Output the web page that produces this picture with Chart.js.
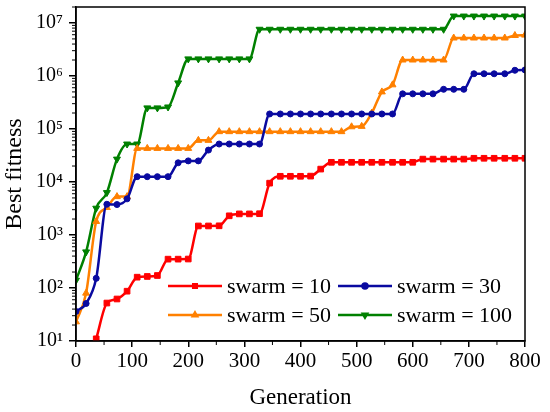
<!DOCTYPE html>
<html>
<head>
<meta charset="utf-8">
<script src="https://cdn.jsdelivr.net/npm/chart.js@4"></script>
<style>
  body { margin: 0; background: #fff; }
  canvas { display: block; }
</style>
</head>
<body>
<canvas id="chart" width="550" height="412"></canvas>
<script>
// x positions of the sampled generations
const generation = [0, 18, 36, 55, 73, 91, 109, 127, 145, 164, 182, 200, 218, 236, 255, 273, 291, 309, 327, 345, 364, 382, 400,
  418, 436, 455, 473, 491, 509, 527, 545, 564, 582, 600, 618, 636, 655, 673, 691, 709, 727, 745, 764, 782, 800];

// best fitness per swarm size
const swarm10 = [null, null, 11, 52, 62, 87, 160, 165, 172, 350, 350, 352, 1480, 1480, 1490, 2300, 2500, 2500, 2520,
  9500, 12800, 12800, 12800, 12900, 17500, 23500, 23500, 23500, 23500, 23500, 23500, 23500, 23500, 23500,
  27000, 27000, 27000, 27000, 27000, 28000, 28000, 28000, 28000, 28000, 28000];
const swarm30 = [36, 51, 152, 3800, 3750, 4800, 12600, 12600, 12600, 12600, 23000, 25000, 25000, 40000,
  52000, 52000, 52000, 52000, 52000,
  192000, 192000, 192000, 192000, 192000, 192000, 192000, 192000, 192000, 192000, 192000, 192000, 192000,
  460000, 460000, 460000, 460000, 560000, 560000, 560000, 1100000, 1100000, 1100000, 1100000, 1280000, 1300000];
const swarm50 = [23, 80, 1800, 3300, 5300, 5300, 43000, 43000, 43000, 43000, 43000, 43000, 61000, 61000,
  89000, 89000, 89000, 89000, 89000, 89000, 89000, 89000, 89000, 89000, 89000, 89000, 89000,
  110000, 112000, 200000, 500000, 680000, 2000000, 2000000, 2000000, 2000000, 2000000,
  5200000, 5200000, 5200000, 5200000, 5200000, 5200000, 5800000, 5900000];
const swarm100 = [140, 480, 3200, 6300, 27000, 52000, 52000, 250000, 250000, 260000, 740000,
  2100000, 2100000, 2100000, 2100000, 2100000, 2100000, 2100000,
  7600000, 7600000, 7600000, 7600000, 7600000, 7600000, 7600000, 7600000, 7600000, 7600000,
  7600000, 7600000, 7600000, 7600000, 7600000, 7600000, 7600000, 7600000, 7600000,
  13500000, 13500000, 13500000, 13500000, 13500000, 13500000, 13500000, 13500000];

const seriesLabels = ['swarm = 10', 'swarm = 30', 'swarm = 50', 'swarm = 100'];
const yTickValues = [1e1, 1e2, 1e3, 1e4, 1e5, 1e6, 1e7];
const yTickLabels = ['10¹', '10²', '10³', '10⁴', '10⁵', '10⁶', '10⁷'];

const FONT = '"Liberation Serif", "Times New Roman", serif';

const toPoints = vals => vals.map((v, i) => ({ x: generation[i], y: v }));

const makeSet = (label, vals, color, style, radius, rotation = 0) => ({
  label,
  data: toPoints(vals),
  borderColor: color,
  backgroundColor: color,
  borderWidth: 2.5,
  pointStyle: style,
  pointRadius: radius,
  pointRotation: rotation,
  pointBorderWidth: 1,
  cubicInterpolationMode: 'monotone',
  spanGaps: false
});

// frame, minor ticks and the in-plot legend
const extrasPlugin = {
  id: 'extras',
  afterDraw(chart) {
    const { ctx, chartArea: a, scales: { x, y } } = chart;
    ctx.save();
    ctx.strokeStyle = '#000';
    ctx.lineWidth = 1.5;
    ctx.strokeRect(a.left, a.top, a.right - a.left, a.bottom - a.top);

    ctx.lineWidth = 1;
    ctx.beginPath();
    for (let g = 50; g < 800; g += 100) {
      const px = x.getPixelForValue(g);
      ctx.moveTo(px, a.bottom); ctx.lineTo(px, a.bottom + 4);
    }
    for (let e = 1; e < 8; e++) {
      for (let m = 2; m < 10; m++) {
        const v = m * Math.pow(10, e);
        if (v > y.max) continue;
        const py = y.getPixelForValue(v);
        ctx.moveTo(a.left, py); ctx.lineTo(a.left - 4, py);
      }
    }
    ctx.stroke();

    // legend: 2 x 2 at the bottom of the plot
    const cols = [168, 338];
    const rows = [286, 315];
    ctx.font = '22px ' + FONT;
    ctx.textBaseline = 'middle';
    ctx.fillStyle = '#000';
    chart.data.datasets.forEach((ds, i) => {
      const lx = cols[i % 2], ly = rows[Math.floor(i / 2)];
      ctx.strokeStyle = ds.borderColor;
      ctx.lineWidth = 2.5;
      ctx.beginPath();
      ctx.moveTo(lx, ly); ctx.lineTo(lx + 54, ly);
      ctx.stroke();
      ctx.fillStyle = ds.borderColor;
      Chart.helpers.drawPoint(ctx, { pointStyle: ds.pointStyle, rotation: ds.pointRotation, radius: 2.5, borderWidth: 1 }, lx + 27, ly);
      ctx.fillStyle = '#000';
      ctx.fillText(ds.label, lx + 59, ly + 1);
    });
    ctx.restore();
  }
};

new Chart(document.getElementById('chart'), {
  type: 'line',
  data: {
    datasets: [
      makeSet(seriesLabels[0], swarm10, '#ff0000', 'rect', 4),
      makeSet(seriesLabels[1], swarm30, '#0a0aa0', 'circle', 3),
      makeSet(seriesLabels[2], swarm50, '#ff8000', 'triangle', 4),
      makeSet(seriesLabels[3], swarm100, '#008000', 'triangle', 4, 180)
    ]
  },
  options: {
    responsive: false,
    animation: false,
    layout: { padding: { top: 7, right: 25, left: 0, bottom: 0 } },
    plugins: { legend: { display: false }, tooltip: { enabled: false } },
    scales: {
      x: {
        type: 'linear',
        min: 0,
        max: 800,
        afterFit: s => { s.height = 71; s.paddingLeft = 0; s.paddingRight = 0; },
        ticks: { stepSize: 100, color: '#000', font: { family: FONT, size: 21 }, padding: 2, maxRotation: 0 },
        grid: { drawOnChartArea: false, color: '#000', tickLength: 6, lineWidth: 1.5 },
        border: { color: '#000', width: 1.5 },
        title: { display: true, text: 'Generation', color: '#000', font: { family: FONT, size: 23 }, padding: { top: 0, bottom: 0 } }
      },
      y: {
        type: 'logarithmic',
        min: 10,
        max: 2e7,
        afterFit: s => { s.width = 76; s.paddingTop = 0; s.paddingBottom = 0; },
        afterBuildTicks: s => { s.ticks = yTickValues.map(v => ({ value: v })); },
        ticks: {
          color: '#000',
          font: { family: FONT, size: 20 },
          padding: 6,
          callback: v => yTickLabels[yTickValues.indexOf(v)]
        },
        grid: { drawOnChartArea: false, color: '#000', tickLength: 7, lineWidth: 1.5 },
        border: { color: '#000', width: 1.5 },
        title: { display: true, text: 'Best fitness', color: '#000', font: { family: FONT, size: 24 }, padding: { top: 0, bottom: 4 } }
      }
    }
  },
  plugins: [extrasPlugin]
});
</script>
</body>
</html>
